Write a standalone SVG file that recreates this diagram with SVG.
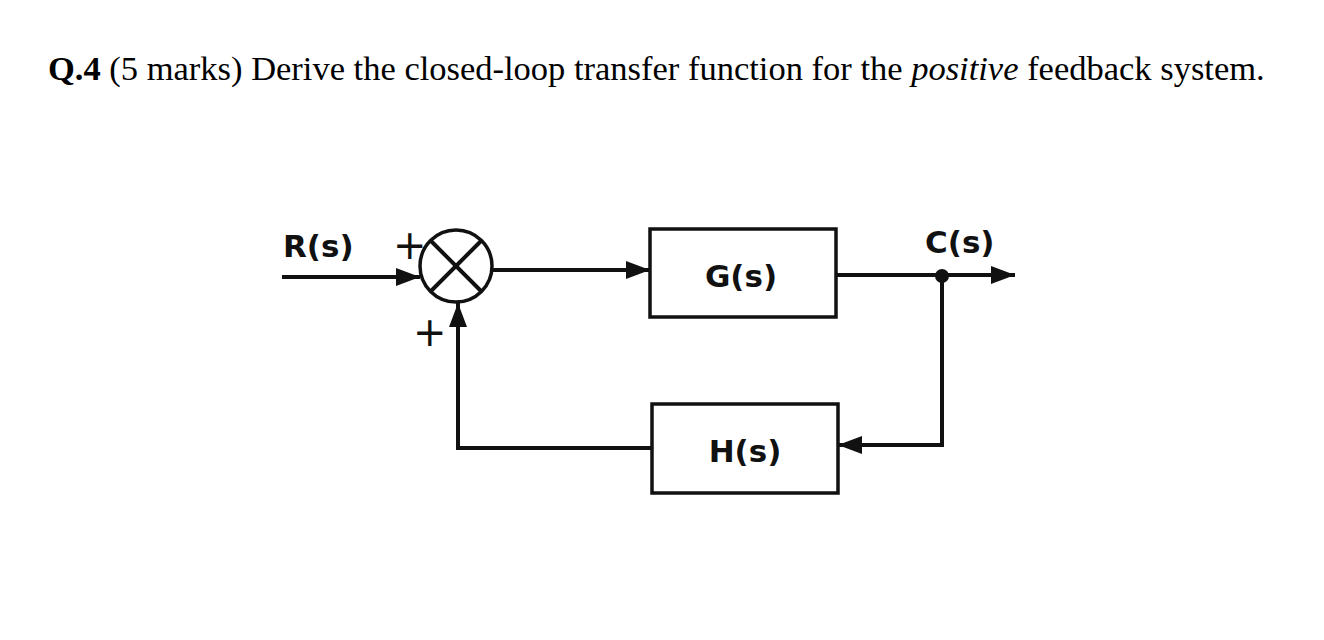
<svg xmlns="http://www.w3.org/2000/svg" width="1324" height="640" viewBox="0 0 1324 640">
<style>
.t{font-family:"Liberation Serif",serif;font-size:34.5px;fill:#000}
.l{font-family:"DejaVu Sans",sans-serif;font-weight:bold;font-size:31px;fill:#111}
.s{font-family:"DejaVu Sans",sans-serif;font-size:40px;fill:#111}
.w{stroke:#111;stroke-width:4;fill:none}
.b{stroke:#111;stroke-width:3.5;fill:#fff}
</style>
<defs>
<marker id="A" markerWidth="24" markerHeight="18" refX="24" refY="9" orient="auto" markerUnits="userSpaceOnUse" viewBox="0 0 24 18"><path d="M0,0L24,9L0,18z" fill="#111"/></marker></defs>
<rect width="1324" height="640" fill="#fff"/>
<text class="t" x="48" y="80"><tspan font-weight="bold">Q.4</tspan> (5 marks) Derive the closed-loop transfer function for the <tspan font-style="italic">positive</tspan> feedback system.</text>
<g id="connectors">
<path class="w" d="M282,277H420" marker-end="url(#A)"/>
<path class="w" d="M493,270H650" marker-end="url(#A)"/>
<path class="w" d="M836,275H1015" marker-end="url(#A)"/>
<path class="w" d="M942,275V445H838" marker-end="url(#A)"/>
<path class="w" d="M652,448H458V303" marker-end="url(#A)"/>
<circle cx="942" cy="276" r="7" fill="#111"/>
</g>
<g id="sum"><circle class="b" cx="456" cy="266" r="36"/><path class="w" stroke-width="3.5" d="M431,241L481,291M481,241L431,291"/></g>
<g id="G"><rect class="b" x="650" y="229" width="186" height="88"/><text class="l" x="741" y="287" text-anchor="middle">G(s)</text></g>
<g id="H"><rect class="b" x="652" y="404" width="186" height="89"/><text class="l" x="745" y="462" text-anchor="middle">H(s)</text></g>
<text class="l" x="283" y="257">R(s)</text>
<text class="s" x="393" y="259">+</text>
<text class="s" x="413" y="346">+</text>
<text class="l" x="925" y="253">C(s)</text>
</svg>
